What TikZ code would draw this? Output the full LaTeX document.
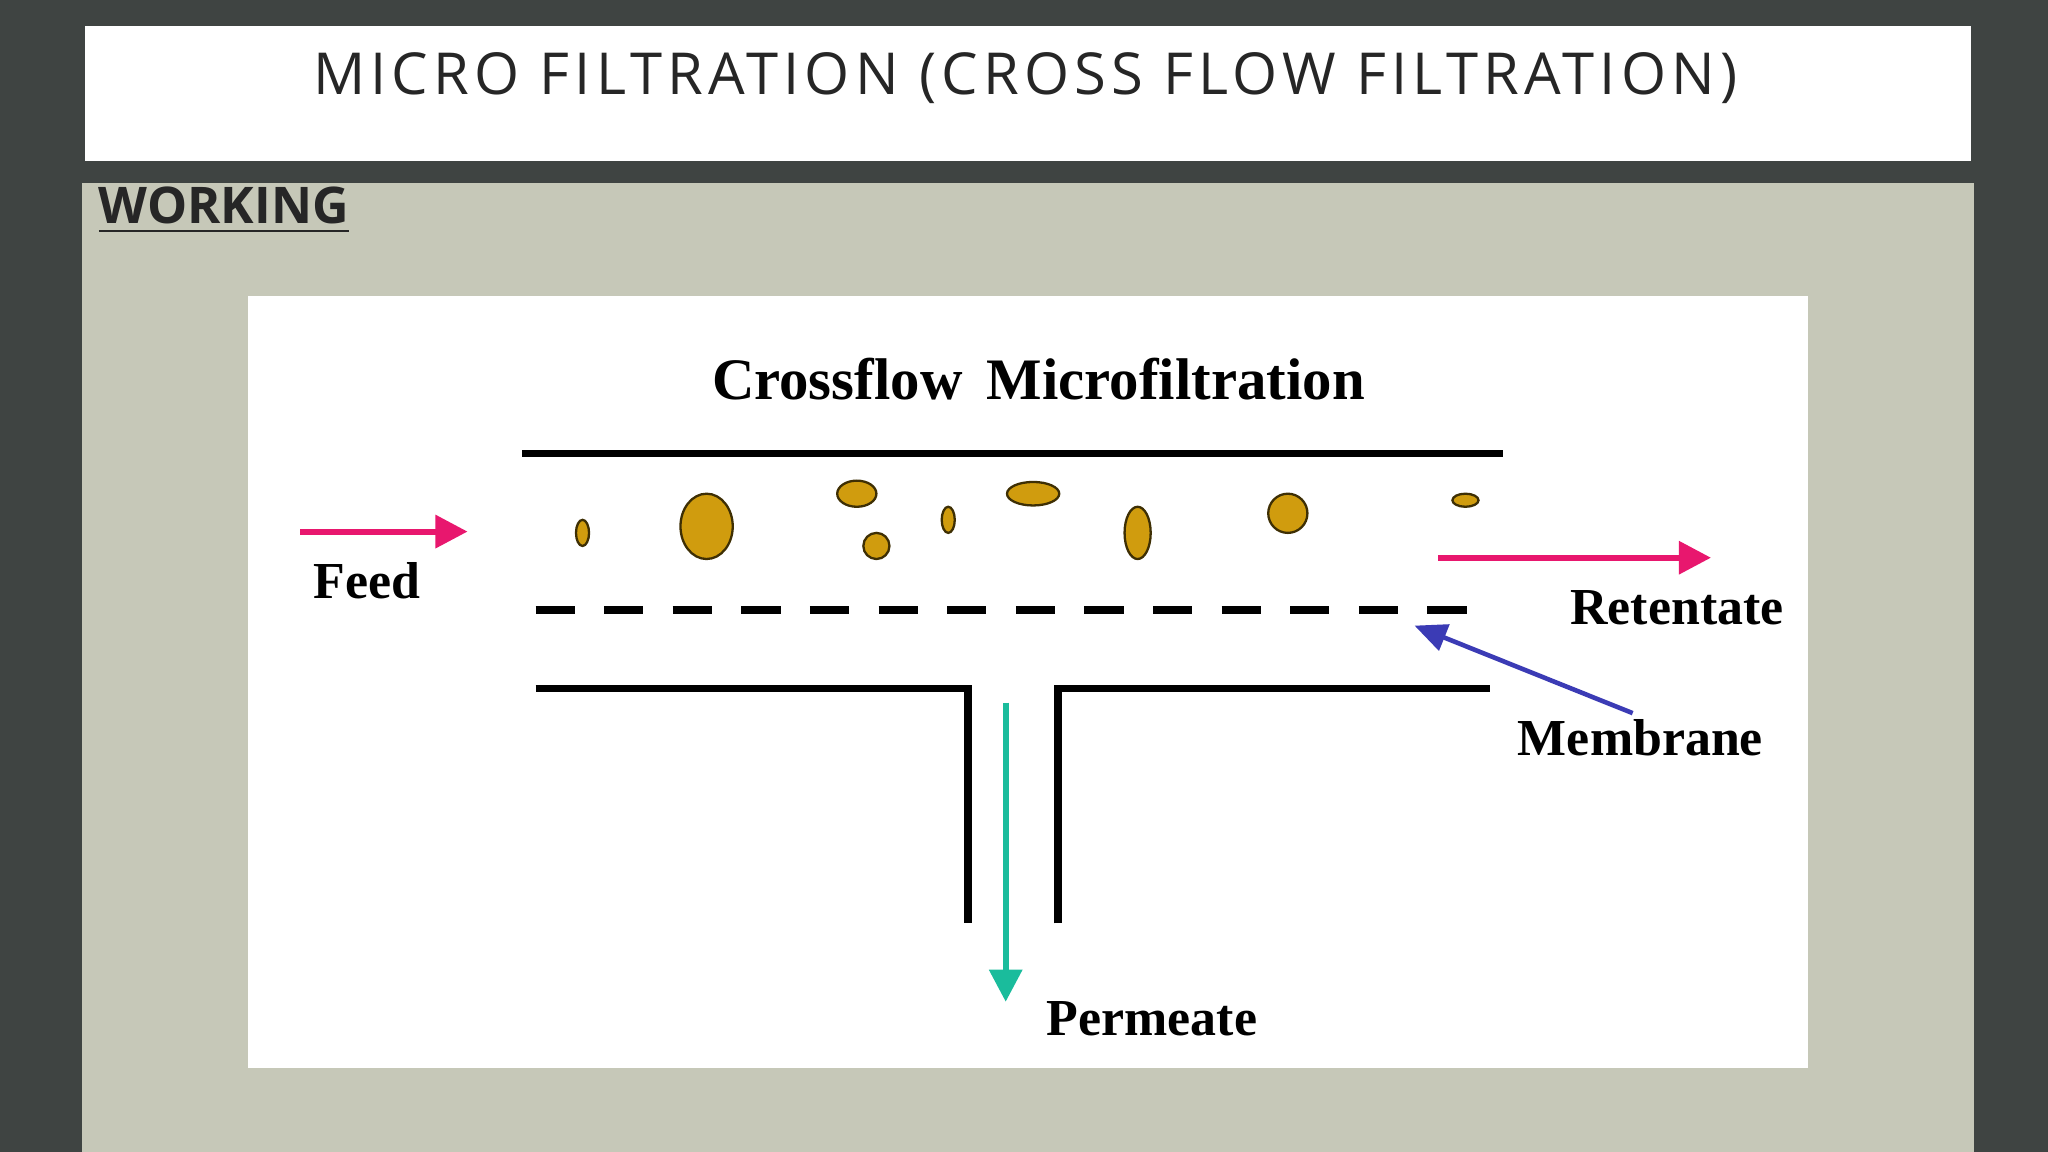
\documentclass[tikz,border=0pt]{standalone}
\usepackage{fontspec}
\setmainfont{Liberation Serif}
\newfontfamily\osans{Open Sans}
\newfontfamily\osanswide[LetterSpace=9]{Open Sans}
\usetikzlibrary{arrows.meta}
\definecolor{bgdark}{HTML}{3F4442}
\definecolor{khaki}{HTML}{C6C8B8}
\definecolor{gold}{HTML}{D09C0E}
\definecolor{pinkc}{HTML}{E8176E}
\definecolor{bluec}{HTML}{3B3BB5}
\definecolor{tealc}{HTML}{1ABC9C}
\tikzset{particle/.style={fill=gold,draw=black!70!gold,line width=0.5pt},
 wall/.style={line width=1.6pt,black},
 flow/.style={line width=1.3pt,-{Triangle[length=7pt,width=7pt]}},
 lbl/.style={font=\bfseries\fontsize{11.3}{13}\selectfont,inner sep=0pt}}
\begin{document}
\begin{tikzpicture}[x=0.01cm,y=-0.01cm]
\fill[bgdark] (0,0) rectangle (1568,882);
\useasboundingbox (0,0) rectangle (1568,882);
\fill[white] (65,20) rectangle (1509,123);
\node[font=\osanswide\fontsize{12.6}{14}\selectfont,inner sep=0pt,text=black!85] (title) at (785,60) {MICRO FILTRATION (CROSS FLOW FILTRATION)};
\fill[khaki] (63,140) rectangle (1511,882);
\node[font=\osans\bfseries\fontsize{11}{13}\selectfont,anchor=west,inner sep=0pt,text=black!85] (work) at (75,161) {\underline{WORKING}};
\fill[white] (190,227) rectangle (1384,818);
\node[lbl,font=\bfseries\fontsize{12.8}{14}\selectfont] (ct) at (795,290) {Crossflow\, Microfiltration};
\draw[wall] (400,347) -- (1151,347);
\draw[wall,dash pattern=on 0.3cm off 0.225cm] (410,467) -- (1125,467);
\draw[wall] (410,527) -- (741,527) -- (741,707);
\draw[wall] (810,707) -- (810,527) -- (1141,527);
\foreach \x/\y/\a/\b in {446/408/5/10,541/403/20/25,656/378/15/10,671/418/10/10,726/398/5/10,791/378/20/9,871/408/10/20,986/393/15/15,1122/383/10/5}
  \path[particle] (\x,\y) ellipse [x radius=\a, y radius=\b];
\coordinate (f1) at (230,407); \coordinate (f2) at (358,407);
\draw[flow,pinkc] (f1) -- (f2);
\node[lbl] (feed) at (281,445) {Feed};
\coordinate (r1) at (1101,427); \coordinate (r2) at (1310,427);
\draw[flow,pinkc] (r1) -- (r2);
\node[lbl] (ret) at (1284,465) {Retentate};
\coordinate (m1) at (1250,546); \coordinate (m2) at (1083,479);
\draw[bluec,line width=1pt,-{Triangle[length=7pt,width=6pt]}] (m1) -- (m2);
\node[lbl] (mem) at (1256,565) {Membrane};
\coordinate (p1) at (770,538); \coordinate (p2) at (770,767);
\draw[flow,tealc] (p1) -- (p2);
\node[lbl] (perm) at (882,780) {Permeate};
\end{tikzpicture}
\end{document}
